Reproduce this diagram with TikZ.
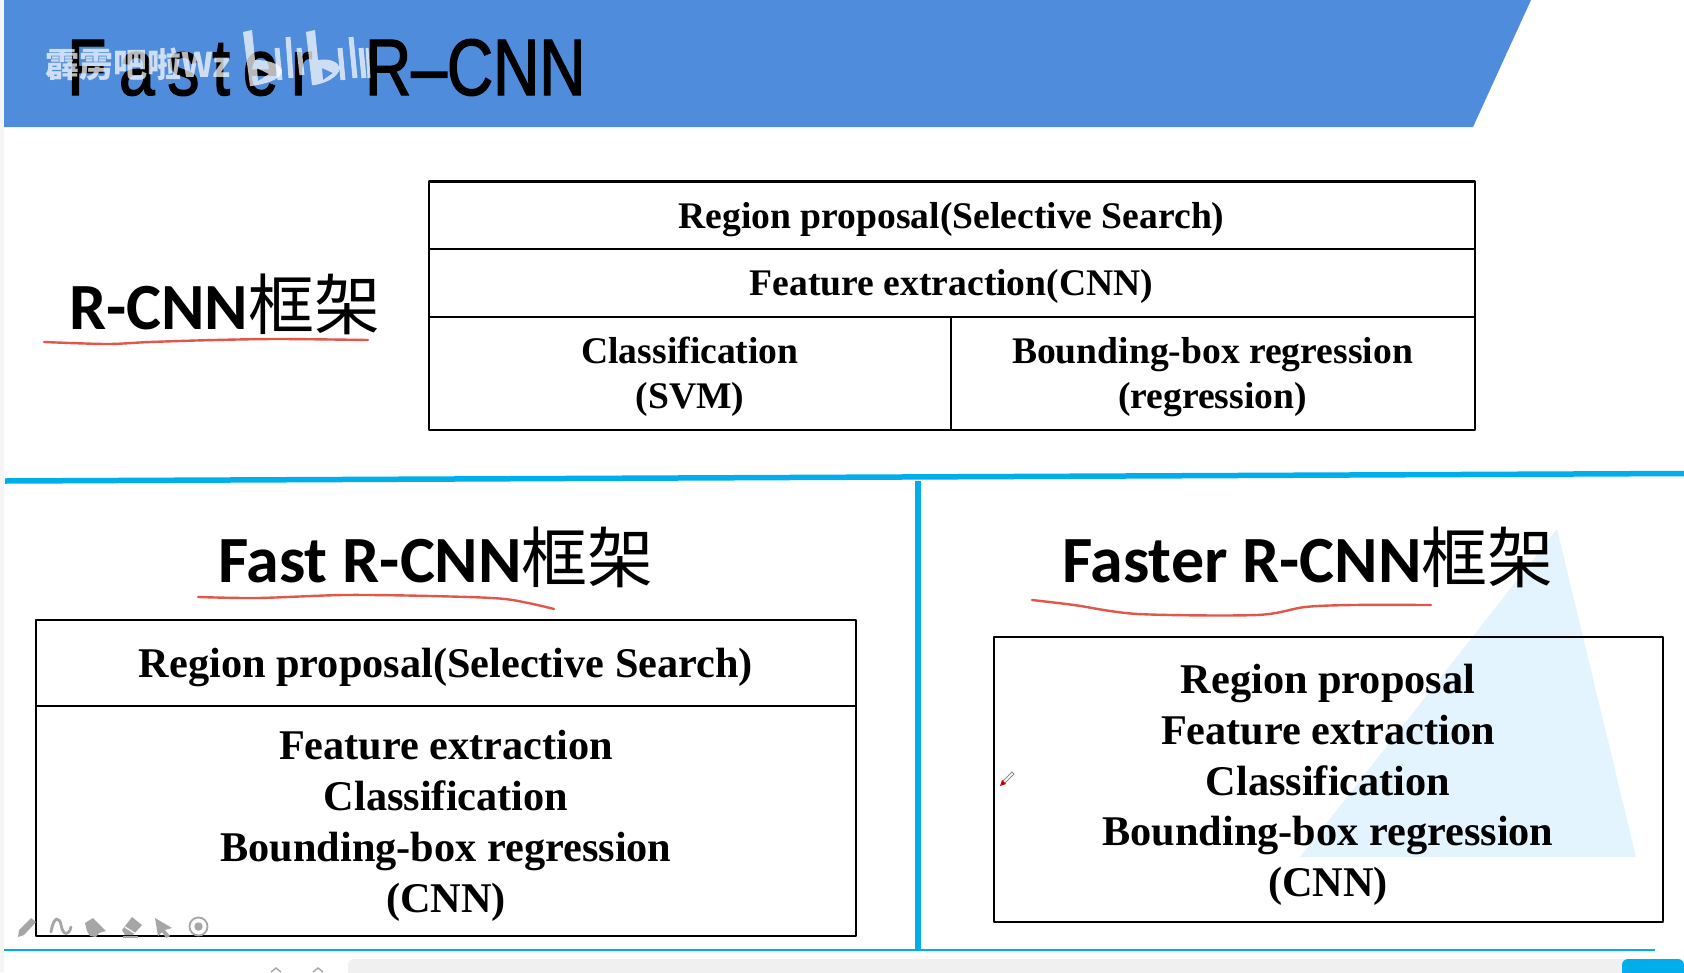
\documentclass[tikz,border=0pt]{standalone}
\usepackage{fontspec}
\setmainfont{Liberation Serif}
\newfontfamily\headfont{Carlito}
\newfontfamily\titlefont[FakeStretch=0.8,FakeBold=1.6]{Liberation Sans}
\newfontfamily\cjk{Noto Sans CJK SC}
\definecolor{banner}{HTML}{4F8CDB}
\definecolor{rule}{HTML}{00AEEC}
\definecolor{redpen}{HTML}{E2574C}
\definecolor{tri}{HTML}{E3F4FE}
\definecolor{tool}{HTML}{A6A6A6}
\tikzset{
  x=1pt,y=-1pt,
  tbl/.style={draw=black,line width=2.8pt,line join=round},
  cell/.style={font=\fontsize{37.6}{45}\selectfont\bfseries,align=center,inner sep=0pt,text=black},
  bigcell/.style={cell,font=\fontsize{42.3}{50.8}\selectfont\bfseries},
  heading/.style={font=\fontsize{66}{66}\selectfont\headfont\bfseries,anchor=base west,inner sep=0pt},
  penline/.style={draw=redpen,line width=2.4pt,line cap=round,line join=round},
  bluerule/.style={draw=rule,line width=5.5pt},
  thin rule/.style={draw=rule,line width=2.2pt},
  icon/.style={fill=tool,draw=none},
  logobar/.style={draw=white,opacity=.72,line width=5pt,line cap=butt},
  logofill/.style={fill=white,opacity=.72,even odd rule},
}
\begin{document}
\begin{tikzpicture}
\useasboundingbox (0,0) rectangle (1684,972);
\fill[white] (0,0) rectangle (1684,972);
\fill[black!4] (0,0) rectangle (4,972);
% banner
\fill[banner] (4,0) -- (1531,0) -- (1473,127) -- (4,127) -- cycle;
\node[font=\fontsize{80}{80}\selectfont\titlefont,anchor=base west,inner sep=0pt] (title) at (67,95) {{\addfontfeature{LetterSpace=16}Faster }\hspace{22pt}R–CNN};
% watermark
\node[font=\fontsize{34}{34}\selectfont\cjk\bfseries,text=white,opacity=.72,anchor=base west,inner sep=0pt] (mark) at (45,77) {霹雳吧啦Wz};
\fill[logofill] (243,32) -- (252,30) -- (255,60) .. controls (272,60) and (283,66) .. (282,72) .. controls (280,80) and (265,84) .. (252,86) -- (250,86) -- cycle
  (257,68) -- (258,81) -- (269,74) -- cycle;
\draw[logobar] (277,48) -- (280,80);
\draw[logobar] (288,37) -- (291,78);
\draw[logobar] (299,48) -- (302,75);
\fill[logofill] (306,32) -- (315,30) -- (318,60) .. controls (330,58) and (338,62) .. (340,68) .. controls (338,78) and (325,83) .. (315,85) -- (312,85) -- cycle
  (322,68) -- (323,80) -- (333,73) -- cycle;
\draw[logobar] (340,48) -- (343,80);
\draw[logobar] (351,37) -- (355,78);
\draw[logobar] (361,48) -- (364,78);
\draw[logobar,line width=3pt] (367,48) -- (369,78);
% triangle behind text
\fill[tri] (1557,529) -- (1636,857) -- (1300,857) -- cycle;
% rules
\draw[bluerule] (5,481) -- (1684,473.5);
\draw[bluerule] (918,481) -- (918,949);
\draw[thin rule] (4,950) -- (1655,950);
% bottom bar
\fill[black!6,rounded corners=6pt] (348,959) -- (1630,959) -- (1630,980) -- (348,980) -- cycle;
\fill[rule,rounded corners=6pt] (1622,959) -- (1684,959) -- (1684,980) -- (1622,980) -- cycle;
\draw[tool,line width=1.4pt] (271,972) -- (276,968) -- (281,972);
\draw[tool,line width=1.4pt] (313,972) -- (318,968) -- (323,972);
% R-CNN table
\draw[tbl] (429,181.5) rectangle (1475,430);
\draw[tbl] (429,249) -- (1475,249);
\draw[tbl] (429,317) -- (1475,317);
\draw[tbl] (951,317) -- (951,430);
\node[cell,anchor=base] (a1) at (951.5,228) {Region proposal(Selective Search)};
\node[cell,anchor=base] (a2) at (951.5,295) {Feature extraction(CNN)};
\node[cell] (a3) at (690,377) {Classification\\(SVM)};
\node[cell] (a4) at (1212.5,377) {Bounding-box regression\\(regression)};
% Fast table
\draw[tbl] (36,620) rectangle (856,936);
\draw[tbl] (36,706) -- (856,706);
\node[bigcell,anchor=base] (b1) at (446,677) {Region proposal(Selective Search)};
\node[bigcell] (b2) at (446,826) {Feature extraction\\Classification\\Bounding-box regression\\(CNN)};
% Faster table
\draw[tbl] (994,637) rectangle (1663,922);
\node[bigcell] (c1) at (1328,785) {Region proposal\\Feature extraction\\Classification\\Bounding-box regression\\(CNN)};
% headings
\node[heading] (h1) at (69,329) {R-CNN{\cjk\mdseries 框架}};
\node[heading] (h2) at (218,582) {Fast R-CNN{\cjk\mdseries 框架}};
\node[heading] (h3) at (1062,582) {Faster R-CNN{\cjk\mdseries 框架}};
% pen marks
\draw[penline] plot[smooth] coordinates {(44,342) (107,344) (150,342) (215,340) (279,339) (368,340)};
\draw[penline] plot[smooth] coordinates {(198,597) (258,598) (344,595) (430,596) (505,599) (554,609)};
\draw[penline] plot[smooth] coordinates {(1032,600) (1074,605) (1138,614) (1257,615) (1305,607) (1353,605) (1431,605)};
% pen cursor
\draw[black!45,line width=.8pt] (1002,782) -- (1012,772) -- (1014,774) -- (1004,784);
\fill[red!80!black] (1000,786) -- (1002,780) -- (1006,784) -- cycle;
% toolbar icons
\fill[icon] (19,930) -- (31,918) -- (36,922) -- (24,935) -- (18,937) -- cycle;
\draw[tool,line width=2.8pt,line cap=round] (51,932) .. controls (54,914) and (60,918) .. (61,925) .. controls (63,936) and (69,936) .. (71,927);
\fill[icon] (85,923) -- (93,918) -- (106,931) -- (99,933) -- (96,937) -- (90,936) -- (87,931) -- cycle;
\fill[icon] (122,930) -- (132,917) -- (142,925) -- (133,935) -- (125,935) -- cycle;
\draw[white,line width=1.2pt] (125,927) -- (136,934);
\draw[tool,line width=1.2pt] (123,937) -- (138,937);
\fill[icon] (155,918) -- (172,928) -- (165,930) -- (170,936) -- (166,938) -- (162,932) -- (158,936) -- cycle;
\draw[tool,line width=1.8pt] (198.5,926.5) circle (9);
\fill[icon] (198.5,926.5) circle (4.2);
\end{tikzpicture}
\end{document}
